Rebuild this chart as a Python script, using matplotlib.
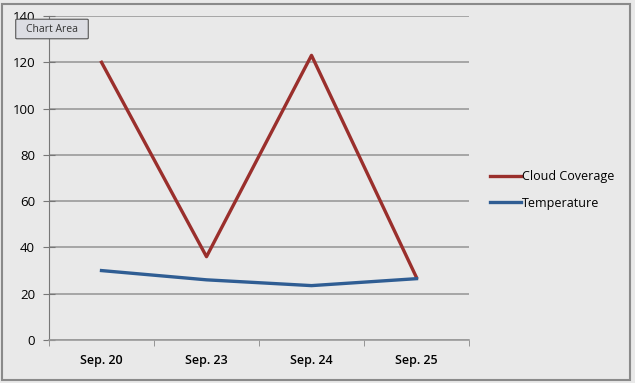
import matplotlib

matplotlib.use("Agg")
import matplotlib.pyplot as plt
from matplotlib.patches import FancyBboxPatch, Rectangle

categories = ["Sep. 20", "Sep. 23", "Sep. 24", "Sep. 25"]
cloud_coverage = [120, 36, 123, 27]
temperature = [30, 26, 23.5, 26.5]
y_ticks = [0, 20, 40, 60, 80, 100, 120, 140]

W, H = 635, 383
plt.rcParams["font.family"] = ["Open Sans", "DejaVu Sans"]

fig = plt.figure(figsize=(W / 100, H / 100), dpi=100)
fig.patch.set_facecolor("#e9e9e9")

# chart frame
fig.patches.append(Rectangle((2 / W, 3 / H), 628 / W, 376 / H, transform=fig.transFigure,
                             fill=False, edgecolor="#8a8a8a", lw=1.5))

ax = fig.add_axes([49 / W, (H - 340) / H, 420 / W, 324 / H])
ax.set_facecolor("#e9e9e9")

x = range(len(categories))
ax.plot(x, cloud_coverage, color="#9a2f2c", lw=2.4, label="Cloud Coverage", zorder=3)
ax.plot(x, temperature, color="#2f5d93", lw=2.4, label="Temperature", zorder=3)

ax.set_xlim(-0.5, len(categories) - 0.5)
ax.set_ylim(0, 140)
ax.set_yticks(y_ticks)
ax.set_xticks(list(x))
ax.set_xticklabels(categories)
ax.set_xticks([i - 0.5 for i in range(len(categories) + 1)], minor=True)

ax.yaxis.grid(True, color="#9a9a9a", lw=1.2)
ax.set_axisbelow(True)
for side in ["top", "right"]:
    ax.spines[side].set_visible(False)
ax.spines["left"].set_color("#777777")
ax.spines["bottom"].set_color("#9a9a9a")
ax.spines["bottom"].set_linewidth(1.2)

ax.tick_params(axis="y", direction="inout", length=8, color="#777777",
               labelsize=9.5, pad=6)
ax.tick_params(axis="x", which="major", length=0, labelsize=9, pad=10)
ax.tick_params(axis="x", which="minor", direction="out", length=4, color="#888888")
for lbl in ax.get_xticklabels():
    lbl.set_fontweight("semibold")

leg = ax.legend(loc="center left", bbox_to_anchor=(1.023, 0.463), frameon=False,
                fontsize=9, handlelength=2.5, handletextpad=0.1, labelspacing=1.05)

# "Chart Area" tooltip
fig.patches.append(FancyBboxPatch((17 / W, (H - 38) / H), 70 / W, 18 / H,
                                  boxstyle="round,pad=0.002", transform=fig.transFigure,
                                  facecolor="#dcdde3", edgecolor="#555555", lw=0.8, zorder=5))
fig.text(52 / W, (H - 29) / H, "Chart Area", ha="center", va="center",
         fontsize=7.5, color="#333333", zorder=6)

fig.savefig("out.png", dpi=100)
